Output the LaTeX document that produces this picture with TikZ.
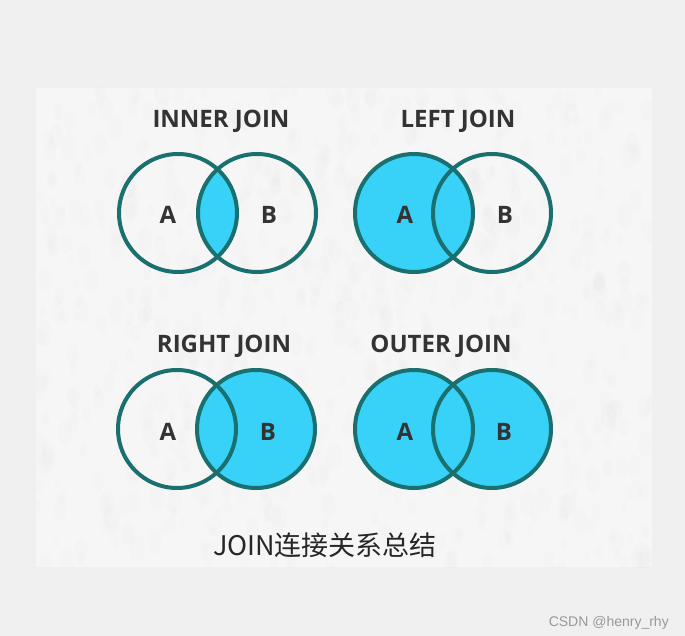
\documentclass[tikz,border=0pt]{standalone}
\usepackage{fontspec}
\setmainfont{Open Sans}[BoldFont={Open Sans Bold}]
\newfontfamily\cjkfont{Noto Sans CJK SC}
\newfontfamily\wmfont{Liberation Sans}
\definecolor{pagebg}{HTML}{F0F0F0}
\definecolor{paper}{HTML}{F6F6F6}
\definecolor{vfill}{HTML}{38D1F8}
\definecolor{vline}{HTML}{19706F}
\definecolor{ink}{HTML}{333333}
\begin{document}
\begin{tikzpicture}[x=1pt,y=-1pt,
  vring/.style={draw=vline,line width=4pt},
  vtitle/.style={anchor=base,text=ink,font=\fontsize{24}{28}\selectfont\bfseries,inner sep=0pt},
  vlabel/.style={anchor=base,text=ink,font=\fontsize{24}{27}\selectfont\bfseries,inner sep=0pt}]
\useasboundingbox (0,0) rectangle (685,636);
\fill[pagebg] (0,0) rectangle (685,636);
\fill[paper] (36,88) rectangle (652,567);
\pgfmathsetseed{11}
\begin{scope}
\clip (36,88) rectangle (652,567);
\foreach \i in {1,...,700}{
  \pgfmathsetmacro\xx{36+616*rnd}
  \pgfmathsetmacro\yy{88+479*rnd}
  \pgfmathsetmacro\rr{3+5*rnd}
  \fill[black,opacity=0.009] (\xx,\yy) ellipse ({\rr} and {1.8*\rr});
}
\end{scope}
\def\R{59}
% INNER JOIN
\begin{scope}
\clip (178,213) circle (\R);
\fill[vfill] (257,213) circle (\R);
\end{scope}
\draw[vring] (178,213) circle (\R);
\draw[vring] (257,213) circle (\R);
% LEFT JOIN
\fill[vfill] (414,213) circle (\R);
\draw[vring] (414,213) circle (\R);
\draw[vring] (492,213) circle (\R);
% RIGHT JOIN
\fill[vfill] (256,429) circle (\R);
\draw[vring] (177,429) circle (\R);
\draw[vring] (256,429) circle (\R);
% OUTER JOIN
\fill[vfill] (414,429) circle (\R) (492,429) circle (\R);
\draw[vring] (414,429) circle (\R);
\draw[vring] (492,429) circle (\R);
% titles
\node[vtitle] (tinner) at (221,128) {INNER JOIN};
\node[vtitle] (tleft) at (458,128) {LEFT JOIN};
\node[vtitle] (tright) at (224,352) {RIGHT JOIN};
\node[vtitle] (touter) at (441,352) {OUTER JOIN};
% labels
\node[vlabel] (ia) at (168,224) {A};
\node[vlabel] (ib) at (269,224) {B};
\node[vlabel] (la) at (405,224) {A};
\node[vlabel] (lb) at (505,224) {B};
\node[vlabel] (ra) at (168,440) {A};
\node[vlabel] (rb) at (268,440) {B};
\node[vlabel] (oa) at (405,440) {A};
\node[vlabel] (ob) at (504,440) {B};
% caption
\node[anchor=base,text=black!85,inner sep=0pt,font=\cjkfont\fontsize{27}{30}\selectfont] (cap) at (325,555) {JOIN连接关系总结};
\node[anchor=base east,text=black!40,inner sep=0pt,font=\wmfont\fontsize{14}{16}\selectfont] (wm) at (669,626) {CSDN @henry\_rhy};
\end{tikzpicture}
\end{document}
